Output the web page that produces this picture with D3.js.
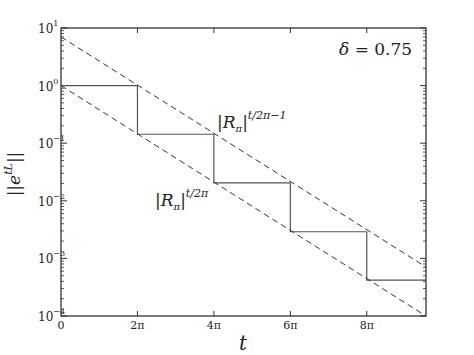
<!DOCTYPE html>
<html><head><meta charset="utf-8">
<script src="https://cdn.jsdelivr.net/npm/d3@7"></script>
<style>body{margin:0;background:#fff}svg{display:block}</style>
</head><body><svg id="c" width="474" height="355"></svg>
<script>
// ---- data ----
const stepT = [0, 2*Math.PI, 4*Math.PI, 6*Math.PI, 8*Math.PI, 30];   // step start times (last = end of axis)
const stepV = [1, 0.143, 0.0205, 0.0029, 0.00042, 0.00042];        // ||e^{tL}||
const upperT = [0, 30];          // |R_pi|^{t/2pi - 1}
const upperV = [7.0, 7.1e-4];
const lowerT = [0, 30];          // |R_pi|^{t/2pi}
const lowerV = [1.0, 1.0e-4];
const xTicks = [0, 2*Math.PI, 4*Math.PI, 6*Math.PI, 8*Math.PI];
const xTickLabels = ["0", "2π", "4π", "6π", "8π"];
const yExp = [1, 0, -1, -2, -3, -4];

const FONT = "DejaVu Serif";
const svg = d3.select("#c");
const L = 61, R = 426, T = 28, B = 316;
const x = d3.scaleLinear().domain([0, 30]).range([L, R]);
const y = d3.scaleLog().domain([1e-4, 10]).range([B, T]);
const ink = "#333", txt = "#222";
const T_ = (sel) => sel.append("text").style("font-family", FONT).attr("fill", txt);

// frame
svg.append("rect").attr("x", L).attr("y", T).attr("width", R - L).attr("height", B - T)
  .attr("fill", "none").attr("stroke", ink).attr("stroke-width", 1.3);

// x ticks (inward, bottom & top)
const g = svg.append("g");
xTicks.forEach((t, i) => {
  if (i > 0) {
    g.append("line").attr("x1", x(t)).attr("x2", x(t)).attr("y1", B).attr("y2", B - 5).attr("stroke", ink);
    g.append("line").attr("x1", x(t)).attr("x2", x(t)).attr("y1", T).attr("y2", T + 5).attr("stroke", ink);
  }
  T_(g).attr("x", x(t)).attr("y", 329).attr("text-anchor", "middle")
    .attr("font-size", 11).text(xTickLabels[i]);
});

// y ticks (log, major + minor, inward both sides)
for (let e = -4; e <= 0; e++) {
  for (let m = 2; m <= 9; m++) {
    const v = m * Math.pow(10, e), yy = y(v);
    g.append("line").attr("x1", L).attr("x2", L + 3).attr("y1", yy).attr("y2", yy).attr("stroke", ink).attr("stroke-width", 0.8);
    g.append("line").attr("x1", R).attr("x2", R - 3).attr("y1", yy).attr("y2", yy).attr("stroke", ink).attr("stroke-width", 0.8);
  }
}
yExp.forEach(e => {
  const yy = y(Math.pow(10, e));
  g.append("line").attr("x1", L).attr("x2", L + 6).attr("y1", yy).attr("y2", yy).attr("stroke", ink);
  g.append("line").attr("x1", R).attr("x2", R - 6).attr("y1", yy).attr("y2", yy).attr("stroke", ink);
  const tx = T_(g).attr("x", 38).attr("y", yy + 5).attr("font-size", 12);
  tx.append("tspan").text("10");
  tx.append("tspan").attr("dy", -7).attr("font-size", 8).text(e < 0 ? "−" + (-e) : String(e));
});

// step line
const stepPts = stepT.map((t, i) => [t, stepV[i]]);
const line = d3.line().x(d => x(d[0])).y(d => y(d[1]));
svg.append("path").datum(stepPts).attr("d", line.curve(d3.curveStepAfter))
  .attr("fill", "none").attr("stroke", "#555").attr("stroke-width", 1.2);

// dashed lines
const dline = d3.line().x(d => x(d[0])).y(d => y(d[1]));
[[upperT, upperV], [lowerT, lowerV]].forEach(([ts, vs]) => {
  svg.append("path").datum(ts.map((t, i) => [t, vs[i]])).attr("d", dline)
    .attr("fill", "none").attr("stroke", "#333").attr("stroke-width", 1).attr("stroke-dasharray", "6,4");
});

// annotations
const d = T_(svg).attr("x", 339).attr("y", 55).attr("font-size", 17);
d.append("tspan").attr("font-style", "italic").text("δ");
d.append("tspan").text(" = 0.75");

function rlabel(x0, y0, sup) {
  const t = T_(svg).attr("x", x0).attr("y", y0).attr("font-size", 17);
  t.append("tspan").text("|");
  t.append("tspan").attr("font-style", "italic").text("R");
  t.append("tspan").attr("font-size", 10).attr("dy", 4).attr("font-style", "italic").text("π");
  t.append("tspan").attr("dy", -4).text("|");
  t.append("tspan").attr("font-size", 11).attr("dy", -9).attr("font-style", "italic").text(sup);
}
rlabel(217, 128, "t/2π−1");
rlabel(155, 206, "t/2π");

// axis labels
T_(svg).attr("x", 243).attr("y", 350).attr("text-anchor", "middle")
  .attr("font-size", 20).attr("font-style", "italic").text("t");
const yl = T_(svg).attr("transform", "translate(20,174) rotate(-90)")
  .attr("text-anchor", "middle").attr("font-size", 17);
yl.append("tspan").text("||");
yl.append("tspan").attr("font-style", "italic").text("e");
yl.append("tspan").attr("font-style", "italic").attr("font-size", 11).attr("dy", -8).text("tL");
yl.append("tspan").attr("dy", 8).text("||");
</script></body></html>
